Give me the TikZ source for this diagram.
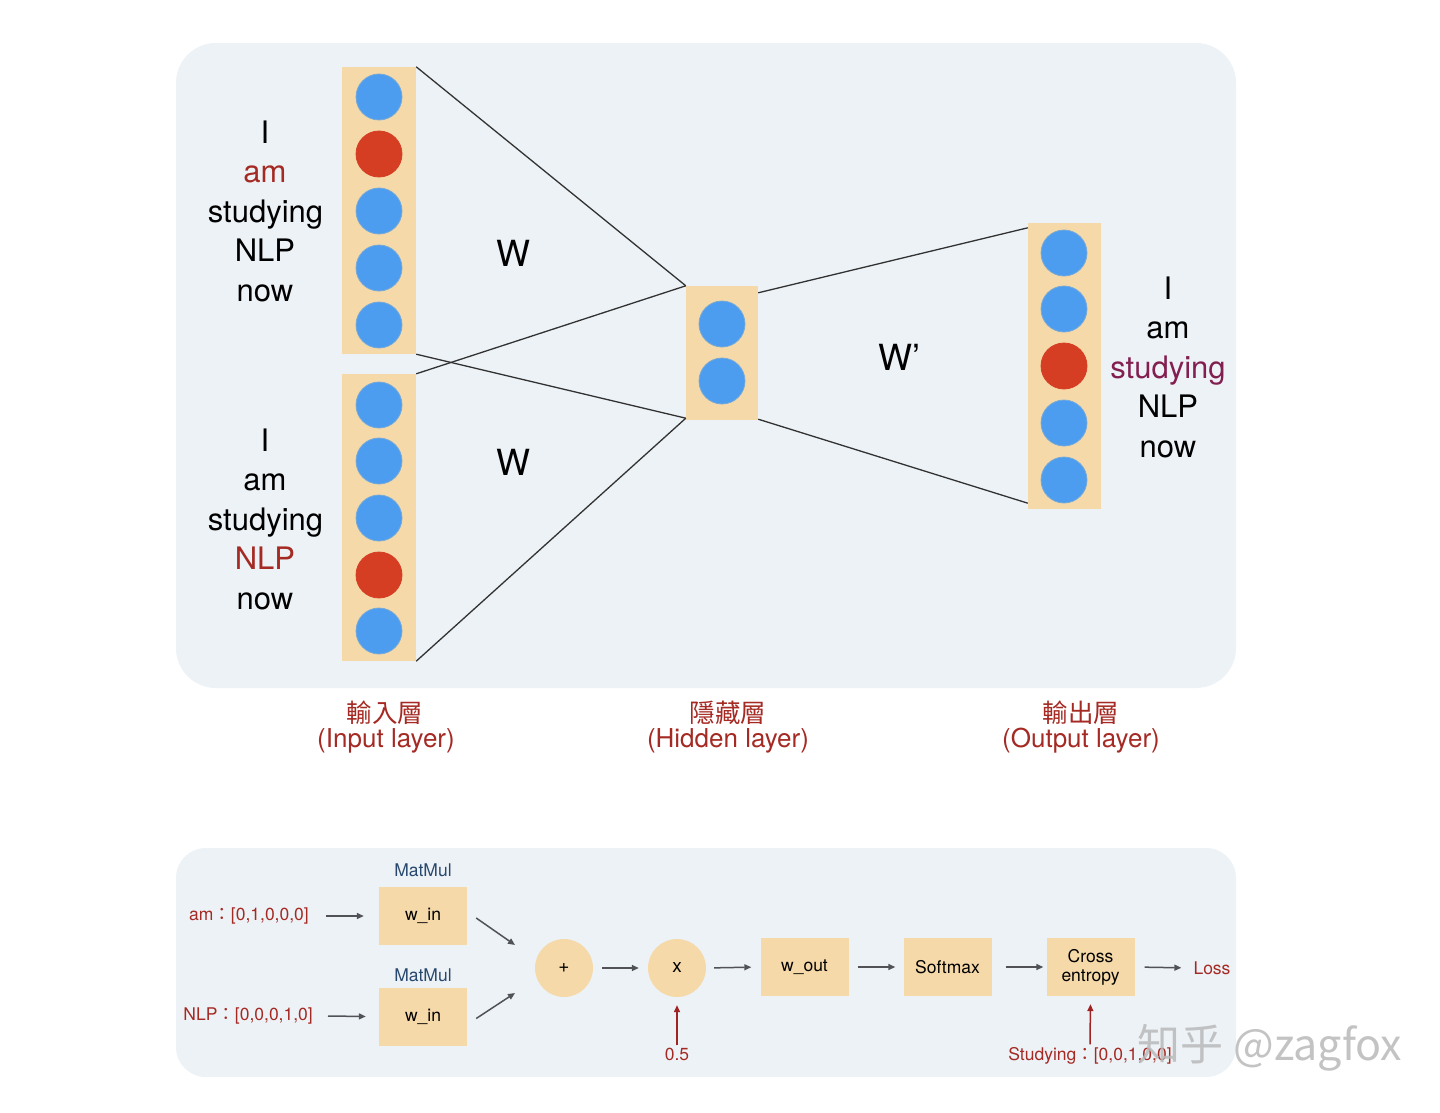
\documentclass[tikz,border=0pt]{standalone}
\usepackage{fontspec}
\setmainfont{TeX Gyre Heros}
\newfontfamily\cjk{Noto Sans CJK TC}
\usetikzlibrary{arrows.meta}
\definecolor{panelc}{RGB}{237,242,246}
\definecolor{boxc}{RGB}{246,217,169}
\definecolor{neub}{RGB}{76,157,240}
\definecolor{neubo}{RGB}{120,170,215}
\definecolor{neur}{RGB}{214,62,36}
\definecolor{wred}{RGB}{165,42,36}
\definecolor{wpurp}{RGB}{130,30,80}
\definecolor{matblue}{RGB}{40,72,110}
\definecolor{lnc}{RGB}{50,50,50}
\definecolor{arc}{RGB}{80,82,86}
\definecolor{redarr}{RGB}{160,35,35}
\tikzset{
  panel/.style={fill=panelc, draw=none, inner sep=0pt},
  layerbox/.style={fill=boxc, draw=none, inner sep=0pt},
  neuron/.style={circle, minimum size=46pt, inner sep=0pt, fill=neub, draw=neubo, line width=0.8pt},
  hot/.style={neuron, fill=neur, draw=neur},
  conn/.style={draw=lnc, line width=1.3pt},
  word/.style={anchor=base, inner sep=0pt, font=\fontsize{31}{36}\selectfont},
  wlab/.style={anchor=base, inner sep=0pt, font=\fontsize{36}{42}\selectfont},
  laycn/.style={inner sep=0pt, text=wred, font=\cjk\fontsize{25.5}{30}\selectfont},
  layen/.style={inner sep=0pt, text=wred, font=\fontsize{26}{30}\selectfont},
  opbox/.style={fill=boxc, draw=none, minimum width=88pt, minimum height=58pt, inner sep=0pt, align=center, font=\fontsize{17.5}{21}\selectfont},
  opcirc/.style={circle, fill=boxc, draw=none, minimum size=58pt, inner sep=0pt, font=\fontsize{19}{22}\selectfont},
  small/.style={inner sep=0pt, font=\fontsize{17.5}{21}\selectfont},
  arr/.style={draw=arc, line width=1.5pt, -{Triangle[length=7pt,width=6pt]}},
  rarr/.style={draw=redarr, line width=1.5pt, -{Triangle[length=7pt,width=6pt]}},
}
\begin{document}
\begin{tikzpicture}[x=1pt,y=-1pt]
\useasboundingbox (0,0) rectangle (1440,1113);
\fill[white] (0,0) rectangle (1440,1113);

% top panel
\node[panel, rounded corners=40pt, minimum width=1060pt, minimum height=645pt] (toppanel) at (706,365.5) {};

% layer boxes
\node[layerbox, minimum width=74pt, minimum height=287pt] (in1) at (379,210.5) {};
\node[layerbox, minimum width=74pt, minimum height=287pt] (in2) at (379,517.5) {};
\node[layerbox, minimum width=72pt, minimum height=134pt] (hid) at (722,353) {};
\node[layerbox, minimum width=73pt, minimum height=286pt] (out) at (1064.5,366) {};

% connections
\draw[conn] (in1.north east) -- (hid.north west);
\draw[conn] (in1.south east) -- ([yshift=2pt]hid.south west);
\draw[conn] (in2.north east) -- (hid.north west);
\draw[conn] (in2.south east) -- ([yshift=2pt]hid.south west);
\draw[conn] ([yshift=-7pt]hid.north east) -- ([yshift=-5pt]out.north west);
\draw[conn] ([yshift=1pt]hid.south east) -- ([yshift=6pt]out.south west);

% neurons
\node[neuron] (a1) at (379,97) {};
\node[hot]    (a2) at (379,154) {};
\node[neuron] (a3) at (379,211) {};
\node[neuron] (a4) at (379,268) {};
\node[neuron] (a5) at (379,325) {};
\node[neuron] (b1) at (379,405) {};
\node[neuron] (b2) at (379,461) {};
\node[neuron] (b3) at (379,518) {};
\node[hot]    (b4) at (379,575) {};
\node[neuron] (b5) at (379,631) {};
\node[neuron] (h1) at (722,324) {};
\node[neuron] (h2) at (722,381) {};
\node[neuron] (o1) at (1064,253) {};
\node[neuron] (o2) at (1064,309) {};
\node[hot]    (o3) at (1064,366) {};
\node[neuron] (o4) at (1064,423) {};
\node[neuron] (o5) at (1064,480) {};

% words
\node[word] (wa1) at (265,143) {I};
\node[word, text=wred] (wa2) at (265,182.5) {am};
\node[word] (wa3) at (265.5,222) {studying};
\node[word] (wa4) at (265,261.5) {NLP};
\node[word] (wa5) at (265,301) {now};

\node[word] (wb1) at (265,451) {I};
\node[word] (wb2) at (265,490.5) {am};
\node[word] (wb3) at (265.5,530) {studying};
\node[word, text=wred] (wb4) at (265,569.5) {NLP};
\node[word] (wb5) at (265,609) {now};

\node[word] (wc1) at (1168,299) {I};
\node[word] (wc2) at (1168,338.5) {am};
\node[word, text=wpurp] (wc3) at (1168,378) {studying};
\node[word] (wc4) at (1168,417.5) {NLP};
\node[word] (wc5) at (1168,457) {now};

\node[wlab] (W1) at (513,266) {W};
\node[wlab] (W2) at (513,475) {W};
\node[wlab] (W3) at (899,370) {W’};

% layer labels
\node[laycn] (l1c) at (385,713) {輸入層};
\node[layen] (l1e) at (386,741) {(Input layer)};
\node[laycn] (l2c) at (728,713) {隱藏層};
\node[layen] (l2e) at (728,741) {(Hidden layer)};
\node[laycn] (l3c) at (1081,713) {輸出層};
\node[layen] (l3e) at (1081,741) {(Output layer)};

% bottom panel
\node[panel, rounded corners=30pt, minimum width=1060pt, minimum height=229pt] (botpanel) at (706,962.5) {};

\node[small, text=matblue] (mm1) at (423,870) {MatMul};
\node[small, text=matblue] (mm2) at (423,975) {MatMul};
\node[opbox] (win1) at (423,916) {w\_in};
\node[opbox] (win2) at (423,1016.5) {w\_in};
\node[small, text=wred, anchor=east] (x1) at (309,916) {am{\cjk ：}[0,1,0,0,0]};
\node[small, text=wred, anchor=east] (x2) at (313,1016) {NLP{\cjk ：}[0,0,0,1,0]};
\node[opcirc] (plus) at (564,968) {+};
\node[opcirc] (times) at (677,968) {x};
\node[opbox] (wout) at (804.5,967) {w\_out};
\node[opbox] (soft) at (947.5,967) {Softmax};
\node[opbox] (ce) at (1090.5,967) {Cross\\[-2pt]entropy};
\node[small, text=wred] (loss) at (1212,968) {Loss};
\node[small, text=wred] (half) at (677,1054) {0.5};
\node[small, text=wred] (stud) at (1090,1056) {Studying{\cjk ：}[0,0,1,0,0]};

\coordinate (j1) at (515,945);
\coordinate (j2) at (515,993);

\draw[arr] ([xshift=17pt]x1.east) -- ([xshift=-15pt]win1.west);
\draw[arr] ([xshift=15pt]x2.east) -- ([xshift=-13pt]win2.west);
\draw[arr] ([xshift=9pt,yshift=-2pt]win1.east) -- (j1);
\draw[arr] ([xshift=9pt,yshift=-2pt]win2.east) -- (j2);
\draw[arr, shorten <=9pt, shorten >=9pt] (plus.east) -- (times.west);
\draw[arr, shorten <=8pt, shorten >=9pt] (times.east) -- (wout.west);
\draw[arr, shorten <=9pt, shorten >=8pt] (wout.east) -- (soft.west);
\draw[arr, shorten <=14pt, shorten >=3pt] (soft.east) -- (ce.west);
\draw[arr, shorten <=10pt, shorten >=12pt] (ce.east) -- (loss.west);
\draw[rarr, shorten <=2pt, shorten >=8pt] (half.north) -- (times.south);
\draw[rarr, shorten <=3pt, shorten >=8pt] (stud.north) -- (ce.south);

% watermark
\node[inner sep=0pt, text=gray!55, opacity=0.85, font=\cjk\fontsize{43}{46}\selectfont] (wm) at (1270,1048) {知乎 @zagfox};
\end{tikzpicture}
\end{document}
